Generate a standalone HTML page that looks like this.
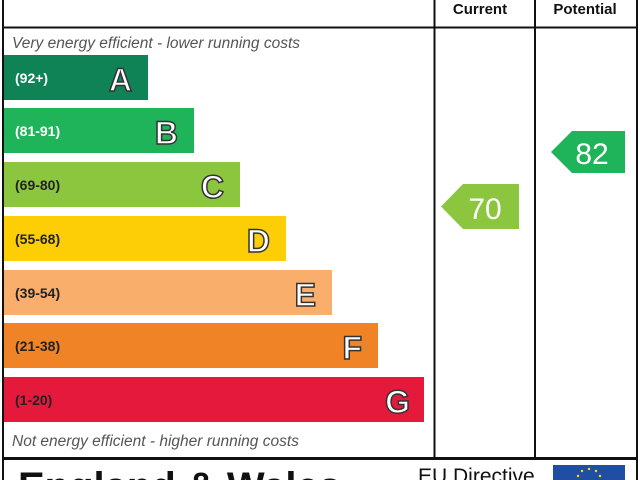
<!DOCTYPE html>
<html><head><style>
html,body{margin:0;background:#fff;width:640px;height:480px;overflow:hidden}
svg{display:block}
text{font-family:"Liberation Sans",sans-serif}
</style></head><body>
<svg width="640" height="480" viewBox="0 0 640 480" xmlns="http://www.w3.org/2000/svg" overflow="hidden">
<rect width="640" height="480" fill="#fff"/>
<g stroke="#111" stroke-width="2" fill="none">
<line x1="3" y1="0" x2="3" y2="480"/>
<line x1="637" y1="0" x2="637" y2="480"/>
<line x1="434.5" y1="0" x2="434.5" y2="458"/>
<line x1="535" y1="0" x2="535" y2="458"/>
<line x1="3" y1="27.5" x2="637" y2="27.5"/>
<line x1="3" y1="458.5" x2="637" y2="458.5" stroke-width="3"/>
</g>
<text x="480" y="14" font-size="15" font-weight="bold" text-anchor="middle" fill="#111">Current</text>
<text x="585" y="14" font-size="15" font-weight="bold" text-anchor="middle" fill="#111">Potential</text>
<text x="12" y="48" font-size="15.5" font-style="italic" fill="#555">Very energy efficient - lower running costs</text>
<text x="12" y="446" font-size="15.5" font-style="italic" fill="#555">Not energy efficient - higher running costs</text>
<g font-weight="bold">
<rect x="4" y="55" width="144" height="45" fill="#0f8256"/>
<text x="15" y="83" font-size="14" fill="#fff">(92+)</text>
<text x="132" y="91" font-size="32" text-anchor="end" fill="#fff" stroke="#333" stroke-width="1.5">A</text>
<rect x="4" y="108" width="190" height="45" fill="#1fb45a"/>
<text x="15" y="136" font-size="14" fill="#fff">(81-91)</text>
<text x="178" y="144" font-size="32" text-anchor="end" fill="#fff" stroke="#333" stroke-width="1.5">B</text>
<rect x="4" y="162" width="236" height="45" fill="#8cc63f"/>
<text x="15" y="190" font-size="14" fill="#222">(69-80)</text>
<text x="224" y="198" font-size="32" text-anchor="end" fill="#fff" stroke="#333" stroke-width="1.5">C</text>
<rect x="4" y="216" width="282" height="45" fill="#fdcd06"/>
<text x="15" y="244" font-size="14" fill="#222">(55-68)</text>
<text x="270" y="252" font-size="32" text-anchor="end" fill="#fff" stroke="#333" stroke-width="1.5">D</text>
<rect x="4" y="270" width="328" height="45" fill="#f9ae6b"/>
<text x="15" y="298" font-size="14" fill="#222">(39-54)</text>
<text x="316" y="306" font-size="32" text-anchor="end" fill="#fff" stroke="#333" stroke-width="1.5">E</text>
<rect x="4" y="323" width="374" height="45" fill="#ef8326"/>
<text x="15" y="351" font-size="14" fill="#222">(21-38)</text>
<text x="362" y="359" font-size="32" text-anchor="end" fill="#fff" stroke="#333" stroke-width="1.5">F</text>
<rect x="4" y="377" width="420" height="45" fill="#e4193b"/>
<text x="15" y="405" font-size="14" fill="#222">(1-20)</text>
<text x="410" y="413" font-size="32" text-anchor="end" fill="#fff" stroke="#333" stroke-width="1.5">G</text>
</g>
<polygon points="441,206.5 463,184 519,184 519,229 463,229" fill="#8cc63f"/>
<text x="485" y="219" font-size="30" text-anchor="middle" fill="#fff">70</text>
<polygon points="551,152 572,131 625,131 625,173 572,173" fill="#1fb45a"/>
<text x="592" y="164" font-size="30" text-anchor="middle" fill="#fff">82</text>
<text x="18" y="500" font-size="40" font-weight="bold" fill="#111">England &amp; Wales</text>
<text x="418" y="483" font-size="21" fill="#111">EU Directive</text>
<rect x="553" y="465" width="72" height="15" fill="#1f4ea3"/>
<g fill="#ffde00"><circle cx="589" cy="469" r="1.2"/><circle cx="582" cy="471" r="1.2"/><circle cx="596" cy="471" r="1.2"/><circle cx="578" cy="476" r="1.2"/><circle cx="600" cy="476" r="1.2"/></g>
</svg>
</body></html>
